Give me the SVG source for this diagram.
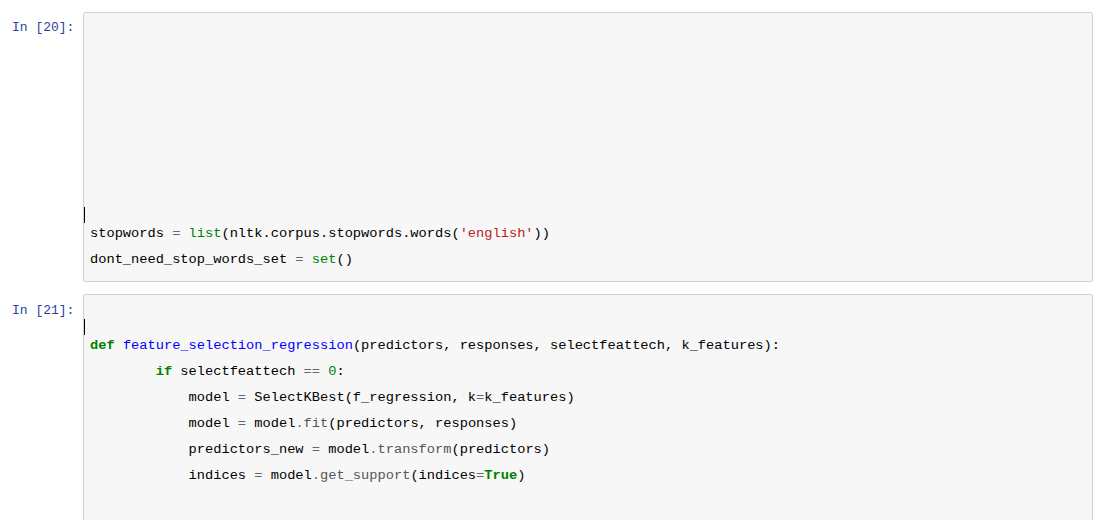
<svg xmlns="http://www.w3.org/2000/svg" width="1108" height="520" viewBox="0 0 1108 520">
<style>
.c{fill:#f7f7f7;stroke:#cfcfcf;stroke-width:1}
text{font-family:"Liberation Mono","DejaVu Sans Mono",monospace;font-size:13.7px;fill:#000;white-space:pre}
.p{fill:#303f9f;font-size:13px}
.k{fill:#008000;font-weight:bold}
.b{fill:#008000}
.f{fill:#0000ff}
.s{fill:#ba2121}
.o{fill:#666}
.a{fill:#555}
.cur{stroke:#000;stroke-width:1}
</style>
<rect width="1108" height="520" fill="#fff"/>
<g id="cell20">
<text class="p" x="12" y="31">In [20]:</text>
<rect class="c" x="83.5" y="12.5" width="1009" height="269" rx="2"/>
<line class="cur" x1="84.5" y1="207" x2="84.5" y2="223"/>
<text x="90" y="237">stopwords <tspan class="o">=</tspan> <tspan class="b">list</tspan>(nltk.corpus.stopwords.words(<tspan class="s">'english'</tspan>))</text>
<text x="90" y="263">dont_need_stop_words_set <tspan class="o">=</tspan> <tspan class="b">set</tspan>()</text>
</g>
<g id="cell21">
<text class="p" x="12" y="314">In [21]:</text>
<rect class="c" x="83.5" y="294.5" width="1009" height="240" rx="2"/>
<line class="cur" x1="84.5" y1="319" x2="84.5" y2="335"/>
<text x="90" y="349"><tspan class="k">def</tspan> <tspan class="f">feature_selection_regression</tspan>(predictors, responses, selectfeattech, k_features):</text>
<text x="90" y="375">        <tspan class="k">if</tspan> selectfeattech <tspan class="o">==</tspan> <tspan class="b">0</tspan>:</text>
<text x="90" y="401">            model <tspan class="o">=</tspan> SelectKBest(f_regression, k<tspan class="o">=</tspan>k_features)</text>
<text x="90" y="427">            model <tspan class="o">=</tspan> model<tspan class="o">.</tspan><tspan class="a">fit</tspan>(predictors, responses)</text>
<text x="90" y="453">            predictors_new <tspan class="o">=</tspan> model<tspan class="o">.</tspan><tspan class="a">transform</tspan>(predictors)</text>
<text x="90" y="479">            indices <tspan class="o">=</tspan> model<tspan class="o">.</tspan><tspan class="a">get_support</tspan>(indices<tspan class="o">=</tspan><tspan class="k">True</tspan>)</text>
</g>
</svg>
